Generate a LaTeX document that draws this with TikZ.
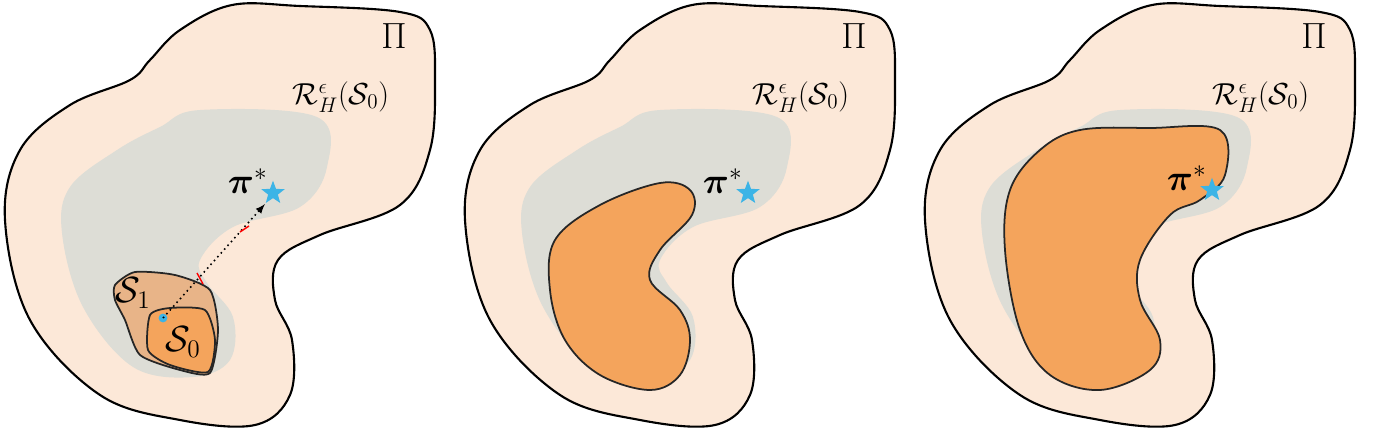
\documentclass[tikz,border=0pt]{standalone}
\usepackage{amsmath,bm}
\usetikzlibrary{shapes.geometric}
\definecolor{policy}{RGB}{252,232,216}
\definecolor{reach}{RGB}{221,221,214}
\definecolor{safe}{RGB}{244,164,92}
\definecolor{safeone}{RGB}{232,180,136}
\definecolor{opt}{RGB}{60,180,230}
\begin{document}
\begin{tikzpicture}[x=0.02cm,y=-0.02cm,
  region/.style={draw=black!85,line width=1pt},
  lbl/.style={font=\fontsize{20}{24}\selectfont,inner sep=0pt},
  small lbl/.style={font=\fontsize{17}{20}\selectfont,inner sep=0pt},
  optstar/.style={star,star points=5,star point ratio=2.4,fill=opt,inner sep=0pt,minimum size=14pt}]
\useasboundingbox (0,0) rectangle (1380,436);
% outer sets, repeated per panel
\foreach \s/\p in {0/a,460/b,920/c} {
  \begin{scope}[xshift=\s*0.02cm]
    \fill[policy,draw=black,line width=1.2pt] plot[smooth cycle,tension=0.6] coordinates {
      (232,5) (300,6) (400,12) (430,30) (435,80) (430,150) (400,205) (320,235) (278,260)
      (275,300) (292,340) (290,395) (255,425) (180,420) (100,395) (30,320) (5,220)
      (20,150) (70,105) (130,80) (150,60) (180,30)};
    \fill[reach] plot[smooth cycle,tension=0.6] coordinates {
      (200,110) (317,117) (327,167) (300,207) (233,227) (200,260) (207,283) (233,317)
      (230,360) (193,377) (133,367) (83,307) (62,233) (70,187) (117,150) (160,127)};
    \node[lbl] (pi\p) at (394,36) {$\Pi$};
    \node[small lbl] (reach\p) at (341,97) {$\mathcal{R}_H^{\epsilon}(\mathcal{S}_0)$};
  \end{scope}
}
% panel 1
\fill[safeone,region] plot[smooth cycle,tension=0.4] coordinates {
  (115,285) (135,272) (175,275) (210,290) (218,330) (210,373) (180,370) (140,355) (125,320) (115,300)};
\fill[safe,region] plot[smooth cycle,tension=0.4] coordinates {
  (150,315) (170,308) (205,310) (215,340) (208,372) (170,365) (148,350)};
\node[lbl] (sone) at (133,293) {$\mathcal{S}_1$};
\node[lbl] (szero) at (183,342) {$\mathcal{S}_0$};
\fill[opt] (163,318) circle (2.5pt) coordinate (start);
\coordinate (goal) at (265,204);
\draw[dotted,line width=0.9pt,-latex] (start) -- (goal);
\draw[red,line width=0.8pt] (197,273) -- (203,284);
\draw[red,line width=0.8pt] (240,232) -- (249,226);
\node[optstar] (opta) at (273,193) {};
\node[lbl,anchor=south east] (opttexta) at (268,194) {$\bm{\pi}^*$};
% panel 2
\fill[safe,region] plot[smooth cycle,tension=0.6] coordinates {
  (555,240) (600,205) (660,183) (690,190) (692,215) (660,250) (650,280) (680,310)
  (690,340) (680,375) (650,390) (600,375) (565,340) (550,290)};
\node[optstar] (optb) at (748,193) {};
\node[lbl,anchor=south east] (opttextb) at (743,194) {$\bm{\pi}^*$};
% panel 3
\fill[safe,region] plot[smooth cycle,tension=0.6] coordinates {
  (1010,190) (1040,150) (1080,130) (1150,128) (1220,130) (1225,175) (1200,200) (1170,215)
  (1140,260) (1140,300) (1160,340) (1150,370) (1100,390) (1050,375) (1020,330) (1005,250)};
\node[optstar] (optc) at (1212,190) {};
\node[lbl,anchor=south east] (opttextc) at (1207,191) {$\bm{\pi}^*$};
\end{tikzpicture}
\end{document}
